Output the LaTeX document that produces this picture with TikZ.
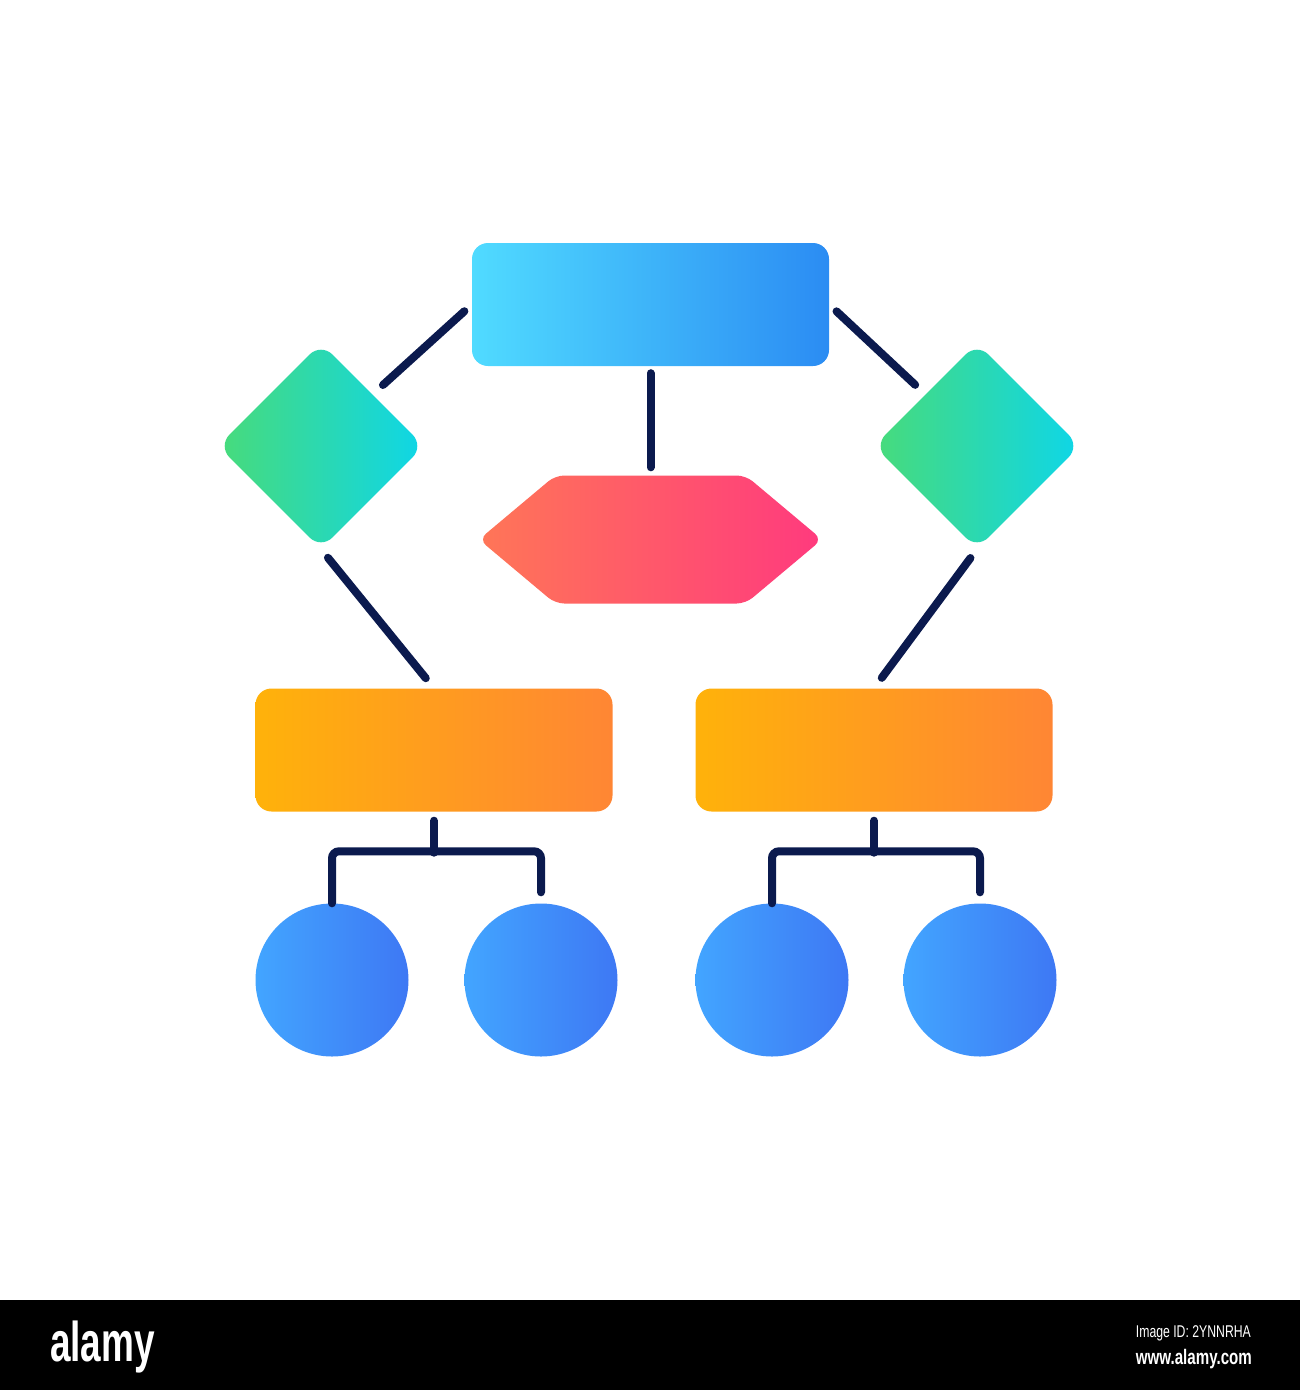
\documentclass[tikz,border=0pt]{standalone}
\usepackage{fontspec}
\setmainfont{Liberation Sans}
\usepackage{tikz}
\usetikzlibrary{shapes.geometric}
\usetikzlibrary{shapes.symbols}
\definecolor{navy}{HTML}{0B1A4E}
\definecolor{topL}{HTML}{50DBFF}
\definecolor{topR}{HTML}{2B8CF3}
\definecolor{diaL}{HTML}{48DB7A}
\definecolor{diaR}{HTML}{0ED6E8}
\definecolor{hexL}{HTML}{FF7657}
\definecolor{hexR}{HTML}{FF3A7E}
\definecolor{boxL}{HTML}{FFB20A}
\definecolor{boxR}{HTML}{FF8634}
\definecolor{leafL}{HTML}{42A5FF}
\definecolor{leafR}{HTML}{3E78F4}
\tikzset{
	box/.style={
		rectangle, rounded corners=16pt,
		inner sep=0pt, minimum width=357pt, minimum height=123pt},
	topbox/.style={box, left color=topL, right color=topR},
	midbox/.style={box, left color=boxL, right color=boxR},
	decision/.style={
		diamond, rounded corners=16pt, inner sep=0pt,
		minimum width=206pt, minimum height=206pt,
		left color=diaL, right color=diaR},
	hexa/.style={
		signal, signal to=east and west, signal pointer angle=80,
		rounded corners=9pt,
		inner sep=0pt, minimum width=343pt, minimum height=128pt,
		left color=hexL, right color=hexR},
	leaf/.style={
		circle, inner sep=0pt, minimum size=153pt,
		left color=leafL, right color=leafR},
	link/.style={
		draw=navy, line width=8pt, line cap=round, rounded corners=7pt}
}

\begin{document}
\begin{tikzpicture}[x=1pt, y=-1pt]
	\useasboundingbox (0,0) rectangle (1300,1390);
	% shapes
	\node[topbox] (top) at (650.5,304.5) {};
	\node[decision] (ldia) at (321,446) {};
	\node[decision] (rdia) at (977,446) {};
	\node[hexa] (hex) at (650.5,539.5) {};
	\node[midbox] (lbox) at (434,750) {};
	\node[midbox] (rbox) at (874,750) {};
	\node[leaf] (c1) at (332,980) {};
	\node[leaf] (c2) at (541,980) {};
	\node[leaf] (c3) at (772,980) {};
	\node[leaf] (c4) at (980,980) {};
	% connectors
	\draw[link, shorten <=10pt, shorten >=14pt] (top.west) -- (ldia.north east);
	\draw[link, shorten <=10pt, shorten >=14pt] (top.east) -- (rdia.north west);
	\draw[link, shorten <=7pt, shorten >=8pt] (top.south) -- (hex.north);
	\draw[link, shorten <=11pt, shorten >=13pt] (ldia.south) -- (lbox.north);
	\draw[link, shorten <=11pt, shorten >=13pt] (rdia.south) -- (rbox.north);
	\draw[link, shorten <=9pt] (lbox.south) -- ++(0,41);
	\draw[link, shorten >=11pt] (c1.north) |- ++(105,-52) -| (c2.north);
	\draw[link, shorten <=9pt] (rbox.south) -- ++(0,41);
	\draw[link, shorten >=11pt] (c3.north) |- ++(105,-52) -| (c4.north);
	% footer
	\node[fill=black, inner sep=0pt, minimum width=1300pt, minimum height=90pt, anchor=north west] (bar) at (0,1300) {};
	\node[text=white, font=\fontsize{56}{56}\bfseries, xscale=0.66, anchor=base west, inner sep=0pt] (logo) at (50,1361) {alamy};
	\node[text=white, font=\fontsize{17}{17}\selectfont, xscale=0.72, anchor=base east, inner sep=0pt] (imgid) at (1251,1337) {Image ID: 2YNNRHA};
	\node[text=white, font=\fontsize{21}{21}\bfseries, xscale=0.72, anchor=base east, inner sep=0pt] (site) at (1252,1364) {www.alamy.com};
\end{tikzpicture}
\end{document}
